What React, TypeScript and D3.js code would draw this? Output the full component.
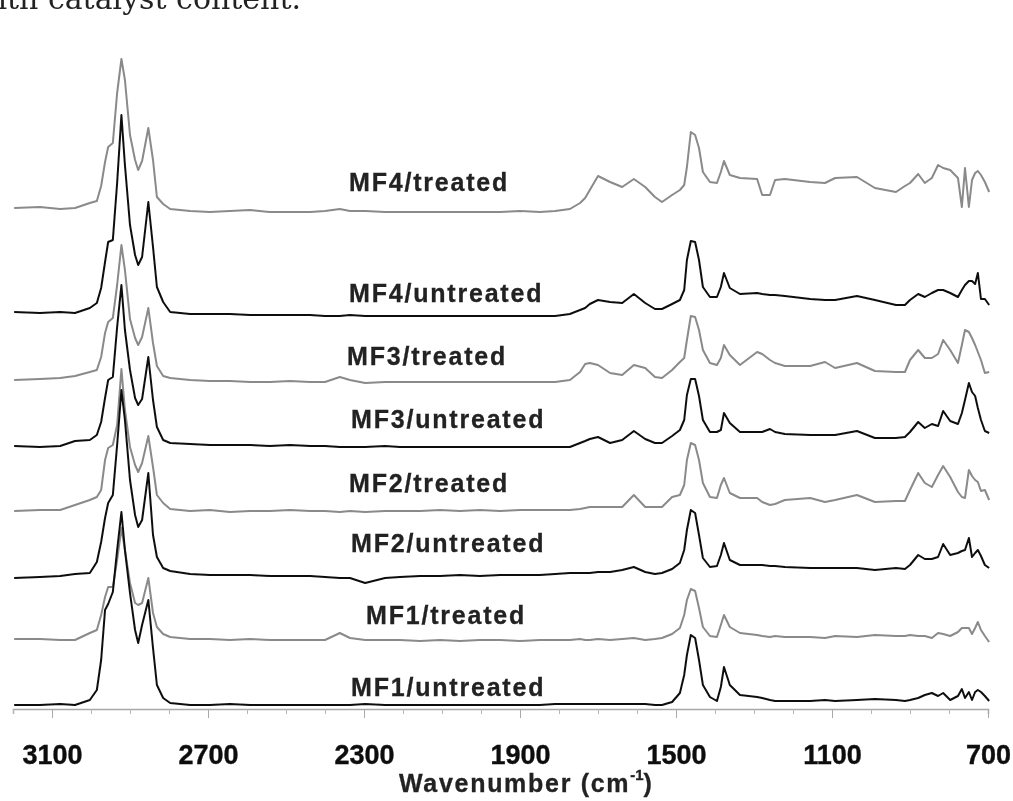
import { useRef, useEffect } from 'react'
import * as d3 from 'd3'

// wavenumber grid shared by all spectra (cm-1)
const wavenumbers = [
  3197, 3131, 3079, 3041, 3003, 2985, 2974, 2964, 2956, 2944,
  2933, 2922, 2913, 2900, 2887, 2879, 2869, 2853, 2841, 2831,
  2815, 2797, 2746, 2695, 2644, 2592, 2541, 2490, 2438, 2400,
  2362, 2336, 2297, 2246, 2208, 2156, 2105, 2054, 2003, 1951,
  1900, 1849, 1810, 1772, 1746, 1733, 1721, 1700, 1669, 1638,
  1608, 1579, 1554, 1536, 1510, 1490, 1479, 1472, 1462, 1451,
  1441, 1431, 1413, 1395, 1385, 1377, 1362, 1336, 1292, 1279,
  1259, 1246, 1221, 1156, 1118, 1092, 1036, 990, 936, 913,
  900, 879, 862, 844, 828, 815, 797, 777, 767, 759,
  749, 741, 733, 726, 718, 708, 697,
]

// stacked intensities, arbitrary units with the offset of each trace included
const mf4Treated = [
  501, 502, 500, 501, 506, 508, 523, 547, 562, 566,
  616, 650, 629, 574, 549, 539, 548, 581, 549, 512,
  505, 500, 498, 497, 498, 499, 497, 497, 497, 498,
  500, 498, 498, 497, 497, 497, 497, 497, 497, 497,
  498, 497, 498, 500, 506, 511, 519, 533, 527, 522,
  530, 522, 512, 507, 514, 519, 524, 542, 577, 574,
  561, 537, 527, 526, 537, 548, 534, 531, 530, 514,
  514, 529, 530, 527, 526, 531, 532, 521, 517, 523,
  526, 535, 526, 531, 544, 541, 539, 531, 502, 541,
  502, 529, 536, 538, 534, 527, 517,
]
const mf4Untreated = [
  397, 396, 397, 396, 401, 406, 421, 447, 467, 469,
  526, 594, 544, 484, 454, 444, 452, 507, 462, 422,
  407, 397, 395, 395, 395, 394, 394, 394, 394, 393,
  393, 394, 393, 393, 393, 393, 393, 393, 393, 393,
  393, 393, 393, 395, 399, 401, 405, 409, 407, 406,
  415, 406, 400, 400, 405, 409, 419, 449, 468, 467,
  449, 422, 412, 412, 422, 436, 421, 415, 416, 415,
  414, 414, 413, 410, 409, 409, 413, 409, 404, 404,
  409, 415, 412, 416, 419, 419, 416, 412, 419, 424,
  428, 428, 425, 436, 410, 410, 404,
]
const mf3Treated = [
  329, 330, 331, 333, 337, 339, 352, 376, 387, 391,
  424, 464, 439, 390, 371, 364, 372, 401, 366, 343,
  333, 331, 329, 328, 328, 327, 327, 328, 327, 327,
  332, 329, 326, 327, 327, 327, 327, 327, 327, 327,
  327, 327, 327, 329, 337, 345, 346, 344, 336, 334,
  344, 341, 332, 331, 339, 347, 351, 369, 393, 392,
  379, 359, 346, 344, 351, 364, 354, 344, 357, 355,
  349, 346, 343, 343, 347, 341, 346, 338, 337, 337,
  349, 359, 351, 351, 355, 369, 359, 346, 364, 379,
  377, 371, 364, 357, 349, 336, 337,
]
const mf3Untreated = [
  263, 262, 263, 268, 269, 274, 287, 311, 329, 332,
  382, 424, 379, 339, 311, 304, 310, 352, 309, 282,
  269, 266, 265, 264, 264, 264, 263, 264, 263, 263,
  262, 262, 262, 263, 262, 262, 262, 262, 262, 262,
  262, 262, 262, 262, 266, 268, 270, 272, 266, 269,
  278, 270, 266, 266, 273, 279, 289, 314, 330, 330,
  313, 289, 277, 277, 279, 296, 286, 277, 277, 277,
  280, 277, 275, 274, 274, 274, 278, 271, 271, 272,
  277, 287, 281, 285, 283, 298, 288, 285, 296, 309,
  326, 317, 313, 301, 289, 278, 276,
]
const mf2Treated = [
  198, 199, 199, 204, 209, 212, 219, 249, 261, 264,
  284, 340, 299, 262, 244, 237, 246, 273, 242, 214,
  206, 200, 198, 199, 197, 198, 198, 199, 198, 198,
  197, 198, 197, 198, 198, 198, 199, 198, 199, 198,
  199, 199, 199, 199, 200, 201, 202, 202, 202, 202,
  214, 202, 202, 202, 212, 214, 224, 249, 266, 264,
  249, 226, 212, 211, 224, 231, 216, 211, 211, 207,
  204, 205, 209, 211, 207, 209, 214, 207, 208, 208,
  219, 236, 226, 222, 234, 243, 232, 217, 212, 211,
  239, 233, 229, 227, 218, 219, 209,
]
const mf2Untreated = [
  131, 132, 133, 135, 136, 147, 167, 191, 206, 214,
  264, 319, 289, 229, 194, 182, 189, 236, 174, 152,
  141, 138, 135, 134, 134, 134, 133, 133, 133, 132,
  131, 131, 126, 131, 132, 133, 133, 134, 133, 134,
  134, 134, 135, 136, 136, 136, 136, 137, 137, 139,
  142, 137, 135, 136, 140, 146, 159, 179, 199, 196,
  174, 151, 142, 143, 154, 166, 149, 144, 144, 144,
  143, 143, 142, 141, 141, 141, 141, 139, 141, 140,
  144, 154, 150, 150, 152, 165, 154, 156, 158, 159,
  171, 152, 156, 159, 153, 144, 141,
]
const mf1Treated = [
  70, 70, 69, 69, 76, 79, 94, 112, 122, 122,
  149, 181, 159, 126, 106, 104, 106, 131, 96, 82,
  75, 72, 70, 70, 69, 70, 69, 69, 69, 69,
  76, 71, 69, 69, 69, 68, 69, 68, 69, 69,
  68, 69, 69, 69, 70, 69, 69, 70, 69, 70,
  71, 69, 70, 71, 75, 81, 94, 109, 120, 118,
  101, 82, 73, 72, 84, 94, 82, 76, 74, 73,
  72, 73, 72, 72, 71, 73, 72, 74, 73, 73,
  74, 73, 73, 71, 76, 75, 73, 77, 81, 81,
  81, 75, 81, 87, 79, 73, 67,
]
const mf1Untreated = [
  4, 4, 5, 4, 9, 19, 49, 99, 105, 117,
  159, 197, 159, 116, 79, 66, 84, 109, 61, 24,
  11, 6, 4, 4, 5, 4, 4, 4, 4, 4,
  4, 4, 5, 4, 4, 4, 4, 4, 4, 4,
  4, 4, 5, 5, 5, 5, 5, 5, 5, 5,
  5, 5, 4, 4, 7, 16, 34, 54, 74, 71,
  49, 24, 12, 8, 22, 42, 24, 14, 12, 11,
  9, 8, 8, 8, 9, 8, 9, 10, 9, 8,
  9, 11, 14, 16, 13, 16, 9, 13, 20, 11,
  17, 9, 17, 19, 17, 13, 8,
]

const seriesNames = [
  'MF4/treated', 'MF4/untreated', 'MF3/treated', 'MF3/untreated',
  'MF2/treated', 'MF2/untreated', 'MF1/treated', 'MF1/untreated',
]
const seriesValues = [
  mf4Treated, mf4Untreated, mf3Treated, mf3Untreated,
  mf2Treated, mf2Untreated, mf1Treated, mf1Untreated,
]
const majorTicks = [3100, 2700, 2300, 1900, 1500, 1100, 700]
const minorTicks = d3.range(3200, 600, -100)

// where each trace's label sits, in page pixels
const labelX = [349, 349, 347, 351, 349, 351, 366, 351]
const labelY = [191, 302, 365, 428, 492, 552, 624, 696]

const GRAY = '#8a8a8a'
const BLACK = '#111'
const FONT = '"Liberation Sans", Arial, sans-serif'

export default function App() {
  const svgRef = useRef<SVGSVGElement>(null)

  useEffect(() => {
    const svg = d3.select(svgRef.current)
    svg.selectAll('*').remove()

    const x = d3.scaleLinear().domain([3200, 700]).range([13, 988])
    const y = d3.scaleLinear().domain([0, 650]).range([709, 59])

    // the source is a soft, upscaled scan
    svg.append('defs').append('filter')
      .attr('id', 'soft')
      .attr('x', '-5%').attr('y', '-5%').attr('width', '110%').attr('height', '110%')
      .append('feGaussianBlur')
      .attr('stdDeviation', 0.55)

    const root = svg.append('g').attr('filter', 'url(#soft)')

    // caption fragment cut off by the top of the image
    root.append('text')
      .attr('x', 301)
      .attr('y', 9)
      .attr('text-anchor', 'end')
      .attr('font-family', '"DejaVu Serif", serif')
      .attr('font-size', 30)
      .attr('fill', '#222')
      .text('with catalyst content.')

    // X axis: short ticks every 100, long ones every 400
    const minor = root.append('g')
      .attr('transform', `translate(0,${y(0)})`)
      .call(d3.axisBottom(x).tickValues(minorTicks.filter(d => d >= 700)).tickSize(5).tickFormat(() => ''))
    minor.select('.domain').attr('stroke', '#a8a8a8').attr('stroke-width', 1.5)
    minor.selectAll('line').attr('stroke', '#b5b5b5')

    const major = root.append('g')
      .attr('transform', `translate(0,${y(0)})`)
      .call(d3.axisBottom(x).tickValues(majorTicks).tickSize(9).tickPadding(27).tickFormat(d3.format('d')))
    major.select('.domain').remove()
    major.selectAll('line').attr('stroke', '#a8a8a8')
    major.selectAll('text')
      .attr('font-family', FONT)
      .attr('font-weight', 'bold')
      .attr('font-size', 27)
      .attr('fill', '#111')
      .attr('stroke', '#111')
      .attr('stroke-width', 0.4)

    // Spectra, top one first so the lower traces sit over it
    const line = d3.line<[number, number]>()
      .x(d => x(d[0]))
      .y(d => y(d[1]))

    seriesValues.forEach((values, i) => {
      root.append('path')
        .datum(d3.zip(wavenumbers, values) as [number, number][])
        .attr('fill', 'none')
        .attr('stroke', i % 2 === 0 ? GRAY : BLACK)
        .attr('stroke-width', 2)
        .attr('stroke-linejoin', 'round')
        .attr('d', line)
    })

    // Labels
    seriesNames.forEach((name, i) => {
      root.append('text')
        .attr('x', labelX[i])
        .attr('y', labelY[i])
        .attr('font-family', FONT)
        .attr('font-weight', 'bold')
        .attr('font-size', 25)
        .attr('letter-spacing', 1.8)
        .attr('fill', '#222')
        .attr('stroke', '#222')
        .attr('stroke-width', 0.3)
        .text(name)
    })

    // Axis title
    const title = root.append('text')
      .attr('x', 399)
      .attr('y', 792)
      .attr('font-family', FONT)
      .attr('font-weight', 'bold')
      .attr('font-size', 25)
      .attr('letter-spacing', 1.7)
      .attr('fill', '#222')
      .attr('stroke', '#222')
      .attr('stroke-width', 0.3)
    title.append('tspan').text('Wavenumber (cm')
    title.append('tspan').attr('dy', -12).attr('font-size', 15).attr('letter-spacing', 0).text('-1')
    title.append('tspan').attr('dy', 12).text(')')
  }, [])

  return (
    <svg
      ref={svgRef}
      width={1013}
      height={801}
      style={{ position: 'absolute', left: 0, top: 0, background: '#fff' }}
    />
  )
}
